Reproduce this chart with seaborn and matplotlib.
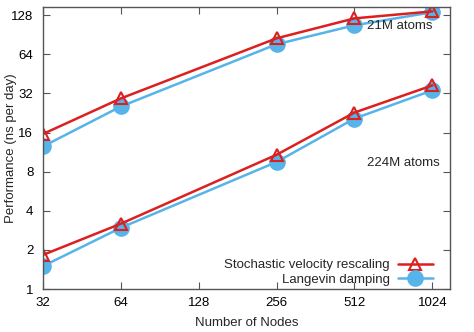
import matplotlib
matplotlib.use("Agg")
import matplotlib.pyplot as plt
import seaborn as sns
import pandas as pd

nodes = [32, 64, 256, 512, 1024]
svr_21m = [15.6, 29.3, 85, 121, 137]
lang_21m = [12.5, 25.4, 76.5, 107, 135]
svr_224m = [1.83, 3.18, 10.8, 22.8, 36.9]
lang_224m = [1.5, 2.96, 9.5, 20.5, 33.8]
x_ticks = [32, 64, 128, 256, 512, 1024]
y_ticks = [1, 2, 4, 8, 16, 32, 64, 128]

series = {
    ("Stochastic velocity rescaling", "21M"): svr_21m,
    ("Langevin damping", "21M"): lang_21m,
    ("Stochastic velocity rescaling", "224M"): svr_224m,
    ("Langevin damping", "224M"): lang_224m,
}
rows = []
for (thermo, system), vals in series.items():
    for n, v in zip(nodes, vals):
        rows.append({"nodes": n, "perf": v, "thermostat": thermo, "system": system})
df = pd.DataFrame(rows)

sns.set_style("ticks")
plt.rcParams["font.family"] = ["Liberation Sans", "DejaVu Sans"]
FS = 9.5

fig = plt.figure(figsize=(4.74, 3.32), dpi=100)
ax = fig.add_axes([43 / 474, 1 - 289 / 332, 407 / 474, 282 / 332])

red = "#dc2020"
blue = "#56b4e9"
palette = {"Stochastic velocity rescaling": red, "Langevin damping": blue}

# Langevin first so the open triangles sit on top of the circles
for thermo, marker, ms, mfc in [("Langevin damping", "o", 10.5, blue),
                                ("Stochastic velocity rescaling", "^", 9, "none")]:
    for system in ["21M", "224M"]:
        sub = df[(df.thermostat == thermo) & (df.system == system)]
        sns.lineplot(data=sub, x="nodes", y="perf", ax=ax, color=palette[thermo],
                     marker=marker, markersize=ms, markerfacecolor=mfc,
                     markeredgecolor=palette[thermo], markeredgewidth=1.5,
                     linewidth=1.8, label=thermo if system == "21M" else None,
                     legend=False)

ax.set_xscale("log", base=2)
ax.set_yscale("log", base=2)
ax.set_xlim(32, 1198)
ax.set_ylim(1, 148)
ax.set_xticks(x_ticks)
ax.set_xticklabels([str(t) for t in x_ticks])
ax.set_yticks(y_ticks)
ax.set_yticklabels([str(t) for t in y_ticks])
ax.minorticks_off()
ax.tick_params(direction="in", top=True, right=True, length=5, width=0.8,
               labelsize=FS, colors="#555555", labelcolor="black")
ax.tick_params(axis="y", pad=7)
ax.tick_params(axis="x", pad=6)
for s in ax.spines.values():
    s.set_color("#555555")
    s.set_linewidth(1.0)

ax.set_xlabel("Number of Nodes", fontsize=FS)
ax.set_ylabel("Performance (ns per day)", fontsize=FS)
ax.xaxis.set_label_coords(0.5, -0.098)
ax.yaxis.set_label_coords(-0.064, 0.5)

ax.text(0.958, 0.933, "21M atoms", transform=ax.transAxes, ha="right", va="center",
        fontsize=FS)
ax.text(0.975, 0.447, "224M atoms", transform=ax.transAxes, ha="right", va="center",
        fontsize=FS)

handles, labels = ax.get_legend_handles_labels()
order = [labels.index("Stochastic velocity rescaling"), labels.index("Langevin damping")]
ax.legend([handles[i] for i in order], [labels[i] for i in order],
          loc="lower right", frameon=False, markerfirst=False, fontsize=FS,
          handlelength=2.65, handletextpad=0.6, labelspacing=0.15,
          borderpad=0, borderaxespad=0, bbox_to_anchor=(0.958, 0.012))

fig.savefig("out.png", dpi=100)
